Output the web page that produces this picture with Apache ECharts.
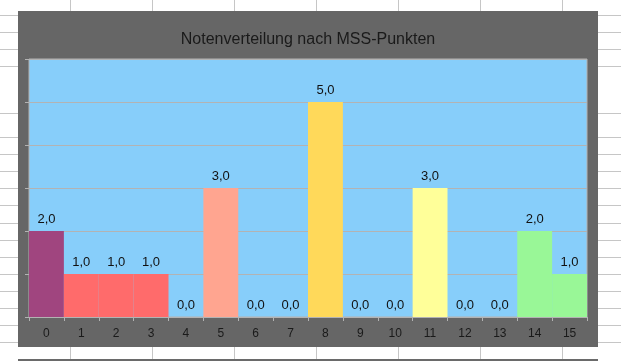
<!DOCTYPE html>
<html>
<head>
<meta charset="utf-8">
<script src="https://cdn.jsdelivr.net/npm/echarts@6/dist/echarts.min.js"></script>
<style>
  html, body { margin: 0; padding: 0; width: 621px; height: 361px; overflow: hidden; background: #ffffff; position: relative; }
  .hl { position: absolute; left: 0; width: 621px; height: 1px; background: #c6c6c6; }
  .vl { position: absolute; top: 0; width: 1px; height: 361px; background: #c6c6c6; }
  #chart { position: absolute; left: 18px; top: 11px; width: 580px; height: 336px; }
  #bottomline { position: absolute; left: 18px; top: 359px; width: 580px; height: 2px; background: #6a6a6a; }
</style>
</head>
<body>
<div id="sheet"></div>
<div id="chart"></div>
<div id="bottomline"></div>
<script>
// Spreadsheet background grid (decoration)
const sheetRows = [15, 32, 49, 66, 113, 137, 154, 171, 188, 205, 223, 240, 257, 274, 291, 308, 325, 342];
const sheetCols = [70, 152, 234, 316, 398, 480, 562];
const sheet = document.getElementById('sheet');
sheetRows.forEach(y => { const d = document.createElement('div'); d.className = 'hl'; d.style.top = y + 'px'; sheet.appendChild(d); });
sheetCols.forEach(x => { const d = document.createElement('div'); d.className = 'vl'; d.style.left = x + 'px'; sheet.appendChild(d); });

// Data
const categories = ['0','1','2','3','4','5','6','7','8','9','10','11','12','13','14','15'];
const counts = [2, 1, 1, 1, 0, 3, 0, 0, 5, 0, 0, 3, 0, 0, 2, 1];
const barColors = ['#a0457f','#ff6b6b','#ff6b6b','#ff6b6b','#ff6b6b','#ffa590','#ffa590','#ffd95a','#ffd95a','#ffd95a','#ffff99','#ffff99','#99f797','#99f797','#99f797','#99f797'];
const chartTitle = 'Notenverteilung nach MSS-Punkten';

const chart = echarts.init(document.getElementById('chart'), null, { renderer: 'canvas' });
chart.setOption({
  animation: false,
  backgroundColor: '#666666',
  textStyle: { fontFamily: 'Liberation Sans, Arial, sans-serif' },
  title: {
    text: chartTitle,
    left: 'center',
    top: 16,
    textStyle: { fontSize: 16, fontWeight: 'normal', color: '#1a1a1a', fontFamily: 'Liberation Sans, Arial, sans-serif' }
  },
  grid: {
    left: 11, right: 11, top: 48, bottom: 30,
    show: true, backgroundColor: '#87cefa', borderColor: '#b3b3b3', borderWidth: 1,
    containLabel: false
  },
  xAxis: {
    type: 'category',
    data: categories,
    boundaryGap: true,
    axisLine: { show: true, lineStyle: { color: '#b3b3b3', width: 1 } },
    axisTick: { show: true, alignWithLabel: false, length: 4, lineStyle: { color: '#b3b3b3' } },
    axisLabel: { color: '#1a1a1a', fontSize: 12, margin: 11, fontFamily: 'Liberation Sans, Arial, sans-serif' },
    splitLine: { show: false }
  },
  yAxis: {
    type: 'value',
    min: 0, max: 6, interval: 1,
    axisLine: { show: false },
    axisTick: { show: true, length: 4, lineStyle: { color: '#b3b3b3' } },
    axisLabel: { show: false },
    splitLine: { show: true, lineStyle: { color: '#b3b3b3', width: 1 } }
  },
  series: [{
    type: 'bar',
    data: counts.map((v, i) => ({ value: v, itemStyle: { color: barColors[i] } })),
    barCategoryGap: '0%',
    label: {
      show: true,
      position: 'top',
      distance: 5,
      color: '#111111',
      fontSize: 13,
      fontFamily: 'Liberation Sans, Arial, sans-serif',
      formatter: p => p.value.toFixed(1).replace('.', ',')
    }
  }]
});
</script>
</body>
</html>
